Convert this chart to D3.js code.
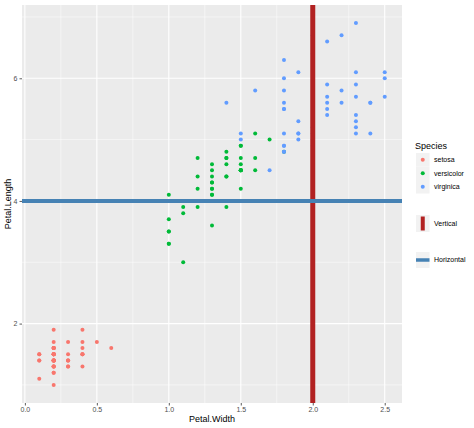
<!DOCTYPE html>
<html lang="en">
<head>
<meta charset="UTF-8">
<title>Petal.Width vs Petal.Length</title>
<script src="https://d3js.org/d3.v7.min.js"></script>
<style>
  body { margin: 0; background: #fff; }
  text { font-family: "Liberation Sans", Arial, sans-serif; }
  .tick-label { font-size: 7px; fill: #4D4D4D; }
  .axis-title { font-size: 9px; fill: #000; }
  .legend-title { font-size: 9px; fill: #000; }
  .legend-text { font-size: 7px; fill: #000; }
</style>
</head>
<body>
<svg width="474" height="428"></svg>
<script>
// iris: Petal.Width / Petal.Length by species
var species = ["setosa", "versicolor", "virginica"];
var colors = ["#F8766D", "#00BA38", "#619CFF"];

var setosaWidth  = [0.2,0.2,0.2,0.2,0.2,0.4,0.3,0.2,0.2,0.1,0.2,0.2,0.1,0.1,0.2,0.4,0.4,0.3,0.3,0.3,0.2,0.4,0.2,0.5,0.2,0.2,0.4,0.2,0.2,0.2,0.2,0.4,0.1,0.2,0.2,0.2,0.2,0.1,0.2,0.2,0.3,0.3,0.2,0.6,0.4,0.3,0.2,0.2,0.2,0.2];
var setosaLength = [1.4,1.4,1.3,1.5,1.4,1.7,1.4,1.5,1.4,1.5,1.5,1.6,1.4,1.1,1.2,1.5,1.3,1.4,1.7,1.5,1.7,1.5,1.0,1.7,1.9,1.6,1.6,1.5,1.4,1.6,1.6,1.5,1.5,1.4,1.5,1.2,1.3,1.4,1.3,1.5,1.3,1.3,1.3,1.6,1.9,1.4,1.6,1.4,1.5,1.4];
var versicolorWidth  = [1.4,1.5,1.5,1.3,1.5,1.3,1.6,1.0,1.3,1.4,1.0,1.5,1.0,1.4,1.3,1.4,1.5,1.0,1.5,1.1,1.8,1.3,1.5,1.2,1.3,1.4,1.4,1.7,1.5,1.0,1.1,1.0,1.2,1.6,1.5,1.6,1.5,1.3,1.3,1.3,1.2,1.4,1.2,1.0,1.3,1.2,1.3,1.3,1.1,1.3];
var versicolorLength = [4.7,4.5,4.9,4.0,4.6,4.5,4.7,3.3,4.6,3.9,3.5,4.2,4.0,4.7,3.6,4.4,4.5,4.1,4.5,3.9,4.8,4.0,4.9,4.7,4.3,4.4,4.8,5.0,4.5,3.5,3.8,3.7,3.9,5.1,4.5,4.5,4.7,4.4,4.1,4.0,4.4,4.6,4.0,3.3,4.2,4.2,4.2,4.3,3.0,4.1];
var virginicaWidth  = [2.5,1.9,2.1,1.8,2.2,2.1,1.7,1.8,1.8,2.5,2.0,1.9,2.1,2.0,2.4,2.3,1.8,2.2,2.3,1.5,2.3,2.0,2.0,1.8,2.1,1.8,1.8,1.8,2.1,1.6,1.9,2.0,2.2,1.5,1.4,2.3,2.4,1.8,1.8,2.1,2.4,2.3,1.9,2.3,2.5,2.3,1.9,2.0,2.3,1.8];
var virginicaLength = [6.0,5.1,5.9,5.6,5.8,6.6,4.5,6.3,5.8,6.1,5.1,5.3,5.5,5.0,5.1,5.3,5.5,6.7,6.9,5.0,5.7,4.9,6.7,4.9,5.7,6.0,4.8,4.9,5.6,5.8,6.1,6.4,5.6,5.1,5.6,6.1,5.6,5.5,4.8,5.4,5.6,5.1,5.1,5.9,5.7,5.2,5.0,5.2,5.4,5.1];

var xTicks = [0, 0.5, 1.0, 1.5, 2.0, 2.5];
var yTicks = [2, 4, 6];
var vLine = 2.0;
var hLine = 4.0;

var widths = [setosaWidth, versicolorWidth, virginicaWidth];
var lengths = [setosaLength, versicolorLength, virginicaLength];
var points = [];
species.forEach(function(s, i) {
  widths[i].forEach(function(w, j) {
    points.push({ species: s, w: w, l: lengths[i][j] });
  });
});

var panel = { left: 22, top: 5, right: 402, bottom: 403 };

var svg = d3.select("svg");

// ggplot style 5% expansion
var xExt = d3.extent(points, function(d) { return d.w; });
var yExt = d3.extent(points, function(d) { return d.l; });
var xPad = (xExt[1] - xExt[0]) * 0.05, yPad = (yExt[1] - yExt[0]) * 0.05;

var x = d3.scaleLinear().domain([xExt[0] - xPad, xExt[1] + xPad]).range([panel.left, panel.right]);
var y = d3.scaleLinear().domain([yExt[0] - yPad, yExt[1] + yPad]).range([panel.bottom, panel.top]);
var color = d3.scaleOrdinal().domain(species).range(colors);

svg.append("rect")
   .attr("x", panel.left).attr("y", panel.top)
   .attr("width", panel.right - panel.left).attr("height", panel.bottom - panel.top)
   .attr("fill", "#EBEBEB");

// minor grid
var xMinor = xTicks.slice(0, -1).map(function(t) { return t + 0.25; });
var yMinor = [1, 3, 5, 7];
var grid = svg.append("g");
grid.selectAll(".xminor").data(xMinor).enter().append("line")
    .attr("x1", function(d) { return x(d); }).attr("x2", function(d) { return x(d); })
    .attr("y1", panel.top).attr("y2", panel.bottom)
    .attr("stroke", "#fff").attr("stroke-width", 0.5);
grid.selectAll(".yminor").data(yMinor).enter().append("line")
    .attr("y1", function(d) { return y(d); }).attr("y2", function(d) { return y(d); })
    .attr("x1", panel.left).attr("x2", panel.right)
    .attr("stroke", "#fff").attr("stroke-width", 0.5);
grid.selectAll(".xmajor").data(xTicks).enter().append("line")
    .attr("x1", function(d) { return x(d); }).attr("x2", function(d) { return x(d); })
    .attr("y1", panel.top).attr("y2", panel.bottom)
    .attr("stroke", "#fff").attr("stroke-width", 1.1);
grid.selectAll(".ymajor").data(yTicks).enter().append("line")
    .attr("y1", function(d) { return y(d); }).attr("y2", function(d) { return y(d); })
    .attr("x1", panel.left).attr("x2", panel.right)
    .attr("stroke", "#fff").attr("stroke-width", 1.1);

// points
svg.append("g").selectAll("circle").data(points).enter().append("circle")
   .attr("cx", function(d) { return x(d.w); })
   .attr("cy", function(d) { return y(d.l); })
   .attr("r", 2)
   .attr("fill", function(d) { return color(d.species); });

// reference lines
svg.append("line")
   .attr("x1", x(vLine)).attr("x2", x(vLine))
   .attr("y1", panel.top).attr("y2", panel.bottom)
   .attr("stroke", "#B22222").attr("stroke-width", 5);
svg.append("line")
   .attr("x1", panel.left).attr("x2", panel.right)
   .attr("y1", y(hLine)).attr("y2", y(hLine))
   .attr("stroke", "#4682B4").attr("stroke-width", 4);

// axes
var xAxis = svg.append("g")
   .attr("transform", "translate(0," + panel.bottom + ")")
   .call(d3.axisBottom(x).tickValues(xTicks).tickFormat(d3.format(".1f")).tickSize(2.5).tickPadding(2));
var yAxis = svg.append("g")
   .attr("transform", "translate(" + panel.left + ",0)")
   .call(d3.axisLeft(y).tickValues(yTicks).tickFormat(d3.format("d")).tickSize(2.5).tickPadding(2));
[xAxis, yAxis].forEach(function(a) {
  a.select(".domain").remove();
  a.selectAll(".tick line").attr("stroke", "#333").attr("stroke-width", 0.8);
  a.selectAll(".tick text").attr("class", "tick-label").attr("font-family", null).attr("font-size", null).attr("fill", null);
});

svg.append("text")
   .attr("class", "axis-title")
   .attr("x", (panel.left + panel.right) / 2).attr("y", 422)
   .attr("text-anchor", "middle")
   .text("Petal.Width");
svg.append("text")
   .attr("class", "axis-title")
   .attr("transform", "translate(11," + ((panel.top + panel.bottom) / 2) + ") rotate(-90)")
   .attr("text-anchor", "middle")
   .text("Petal.Length");

// legends
var lg = svg.append("g");
lg.append("text").attr("class", "legend-title").attr("x", 415).attr("y", 149).text("Species");
var keyX = 416, keySize = 13.5, keyTop = 153;
species.forEach(function(s, i) {
  var ky = keyTop + i * keySize;
  lg.append("rect").attr("x", keyX).attr("y", ky).attr("width", keySize).attr("height", keySize).attr("fill", "#F2F2F2");
  lg.append("circle").attr("cx", keyX + keySize / 2).attr("cy", ky + keySize / 2).attr("r", 2).attr("fill", color(s));
  lg.append("text").attr("class", "legend-text").attr("x", 434).attr("y", ky + keySize / 2).attr("dy", "0.35em").text(s);
});

var vKeyY = 215;
lg.append("rect").attr("x", keyX).attr("y", vKeyY).attr("width", keySize).attr("height", 17).attr("fill", "#F2F2F2");
lg.append("line").attr("x1", keyX + keySize / 2).attr("x2", keyX + keySize / 2)
  .attr("y1", vKeyY + 1.5).attr("y2", vKeyY + 15.5).attr("stroke", "#B22222").attr("stroke-width", 4);
lg.append("text").attr("class", "legend-text").attr("x", 434).attr("y", vKeyY + 8.5).attr("dy", "0.35em").text("Vertical");

var hKeyY = 252;
lg.append("rect").attr("x", keyX).attr("y", hKeyY).attr("width", keySize).attr("height", 16).attr("fill", "#F2F2F2");
lg.append("line").attr("x1", keyX).attr("x2", keyX + keySize)
  .attr("y1", hKeyY + 8).attr("y2", hKeyY + 8).attr("stroke", "#4682B4").attr("stroke-width", 3.5);
lg.append("text").attr("class", "legend-text").attr("x", 434).attr("y", hKeyY + 8).attr("dy", "0.35em").text("Horizontal");
</script>
</body>
</html>
